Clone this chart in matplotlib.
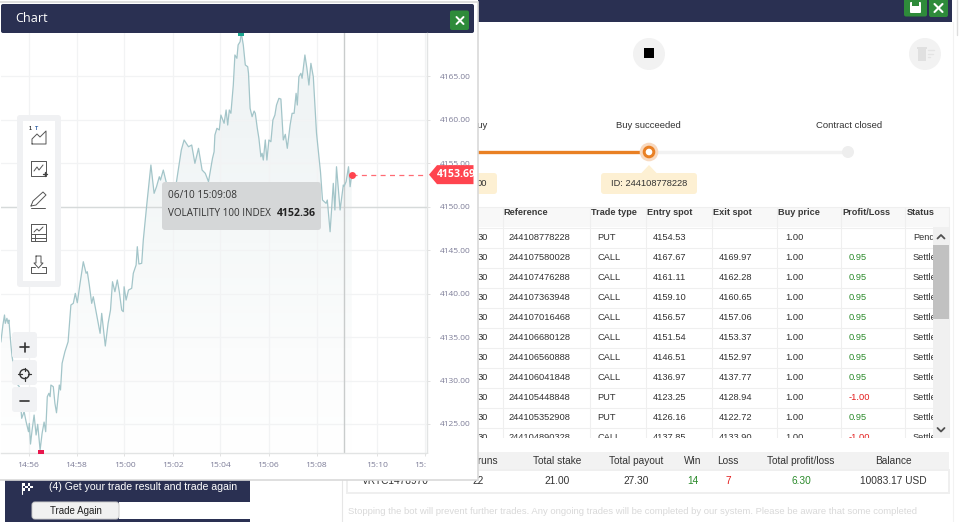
import numpy as np
import matplotlib
matplotlib.use("Agg")
import matplotlib.pyplot as plt
from matplotlib.colors import LinearSegmentedColormap
from matplotlib.patches import FancyBboxPatch, Rectangle, Circle, Polygon, PathPatch
from matplotlib.path import Path

plt.rcParams['font.family'] = ['Liberation Sans', 'DejaVu Sans']

# seconds after 14:56:00
times_s = [-69,-64,-60,-58,-54,-51,-49,-44,-41,-30,
           -23,-17,-11,-6,0,2,5,9,14,19,
           23,29,34,39,43,47,51,54,56,62,
           66,70,75,77,80,84,91,99,106,112,
           117,122,129,137,144,147,152,158,162,172,
           179,183,187,192,199,205,210,216,222,227,
           233,237,239,244,250,258,262,269,272,276,
           283,287,296,306,314,320,327,330,337,344,
           354,366,370,382,389,400,408,416,425,434,
           442,450,460,464,466,471,477,481,489,494,
           498,502,506,512,516,521,524,529,532,537,
           542,548,550,554,559,564,567,572,576,581,
           584,587,592,596,601,606,611,616,620,626,
           631,637,642,647,654,659,664,669,672,676,
           681,684,691,696,701,706,712,720,727,730,
           735,744,747,754,762,766,770,779,787,789,
           794,800,804,808]
prices = [4134.46,4136.39,4137.54,4136.58,4137.16,4136.58,4136.96,4134.09,4132.74,4129.68,
          4129.29,4125.65,4126.41,4125.26,4124.11,4125.07,4122.69,4124.30,4126.03,4123.73,
          4124.96,4122.00,4123.92,4125.22,4124.11,4128.14,4128.53,4128.14,4129.48,4129.29,
          4127.38,4126.29,4128.53,4129.48,4128.91,4131.98,4133.31,4134.46,4138.69,4138.88,
          4140.03,4138.95,4141.22,4143.67,4142.34,4142.52,4140.99,4138.88,4139.64,4137.16,
          4135.43,4137.73,4136.01,4133.97,4136.58,4138.11,4141.37,4140.22,4141.57,4140.22,
          4138.11,4137.92,4140.79,4139.26,4140.41,4140.61,4142.34,4143.29,4145.40,4143.41,
          4143.49,4146.17,4150.39,4154.80,4151.54,4152.30,4153.45,4153.07,4154.22,4152.88,
          4151.92,4151.69,4152.88,4156.52,4157.68,4156.90,4157.10,4154.99,4156.72,4154.22,
          4153.84,4152.88,4155.57,4156.33,4158.25,4159.02,4158.83,4160.55,4159.60,4161.13,
          4159.40,4161.13,4160.75,4164.00,4167.46,4167.08,4168.61,4168.99,4169.99,4168.61,
          4166.31,4166.11,4165.35,4161.32,4160.36,4161.01,4160.75,4159.02,4157.87,4155.75,
          4156.15,4155.37,4157.68,4155.37,4157.68,4157.48,4159.98,4160.55,4161.70,4162.47,
          4162.39,4157.68,4158.33,4156.72,4159.40,4160.75,4160.75,4163.05,4161.70,4164.96,
          4165.35,4164.78,4167.46,4165.93,4164.00,4166.50,4164.96,4158.48,4155.37,4153.99,
          4150.77,4150.39,4150.77,4147.12,4152.69,4149.62,4154.60,4149.62,4152.50,4152.36,
          4152.88,4154.60,4152.30,4153.69]

x_tick_labels = ["14:56", "14:58", "15:00", "15:02", "15:04", "15:06", "15:08", "15:10", "15:12"]
x_tick_secs = [0, 120, 240, 360, 480, 600, 720, 871, 991]  # the axis stretches past the last tick
y_ticks = [4125, 4130, 4135, 4140, 4145, 4150, 4155, 4160, 4165]
hover_index = 159
hover_time = "06/10 15:09:08"
hover_name = "VOLATILITY 100 INDEX"

table_columns = ["Reference", "Trade type", "Entry spot", "Exit spot", "Buy price", "Profit/Loss", "Status"]
references = ["244108778228", "244107580028", "244107476288", "244107363948", "244107016468", "244106680128",
              "244106560888", "244106041848", "244105448848", "244105352908", "244104890328"]
trade_types = ["PUT", "CALL", "CALL", "CALL", "CALL", "CALL", "CALL", "CALL", "PUT", "PUT", "CALL"]
entry_spots = ["4154.53", "4167.67", "4161.11", "4159.10", "4156.57", "4151.54",
               "4146.51", "4136.97", "4123.25", "4126.16", "4137.85"]
exit_spots = ["", "4169.97", "4162.28", "4160.65", "4157.06", "4153.37",
              "4152.97", "4137.77", "4128.94", "4122.72", "4133.90"]
buy_prices = ["1.00"] * 11
profits = ["", "0.95", "0.95", "0.95", "0.95", "0.95", "0.95", "0.95", "-1.00", "0.95", "-1.00"]
statuses = ["Pending"] + ["Settled"] * 10

summary_columns = ["No. of runs", "Total stake", "Total payout", "Win", "Loss", "Total profit/loss", "Balance"]
summary_values = ["22", "21.00", "27.30", "14", "7", "6.30", "10083.17 USD"]
summary_colors = ["#333333", "#333333", "#333333", "#2a8a2a", "#e31c1c", "#2a8a2a", "#333333"]

NAVY = "#2a3052"
GREEN = "#2e8b3a"
ORANGE = "#e98024"
RED = "#ff444f"
GREY_TXT = "#7d7d98"
CHART_FONT = ['Open Sans', 'DejaVu Sans']

W, H = 959, 522
fig = plt.figure(figsize=(W / 100, H / 100), dpi=100)


def px_axes(z):
    a = fig.add_axes([0, 0, 1, 1], zorder=z)
    a.set_xlim(0, W)
    a.set_ylim(H, 0)
    a.axis("off")
    return a


def box(a, x0, y0, x1, y1, color, r=0, z=1, ec="none", lw=0):
    if r:
        p = FancyBboxPatch((x0, y0), x1 - x0, y1 - y0, boxstyle=f"round,pad=0,rounding_size={r}",
                           fc=color, ec=ec, lw=lw, zorder=z)
    else:
        p = Rectangle((x0, y0), x1 - x0, y1 - y0, fc=color, ec=ec, lw=lw, zorder=z)
    a.add_patch(p)
    return p


def lines(a, pts, color="#555555", lw=0.8, z=3):
    pts = np.array(pts)
    a.plot(pts[:, 0], pts[:, 1], color=color, lw=lw, zorder=z, solid_capstyle="round")


base = px_axes(0)

# right panel, everything here sits behind the chart window
box(base, 478, 0, 952, 22, NAVY)
box(base, 904, -3, 927, 16.5, GREEN, r=2, z=2)
box(base, 929, -3, 948, 17, GREEN, r=2, z=2)
box(base, 910, 2, 921, 13, "white", r=1, z=3)
box(base, 912, 2, 919, 6, GREEN, z=4)
lines(base, [(934.5, 4), (942.5, 12)], "white", 1.5)
lines(base, [(934.5, 12), (942.5, 4)], "white", 1.5)
lines(base, [(956.5, 0), (956.5, 35)], "#dddddd", 1.0)
lines(base, [(953, 22), (953, 522)], "#f2f2f2", 0.8)

base.add_patch(Circle((649, 54), 16, fc="#f2f2f2", ec="none", zorder=2))
box(base, 644, 48, 654, 58, "black", z=3)
base.add_patch(Circle((925, 54), 16, fc="#f2f2f2", ec="none", zorder=2))
box(base, 918, 49, 926, 61, "#e0e0e0", z=3)
box(base, 917, 47, 927, 48.5, "#e0e0e0", z=3)
for ty, tx in [(50, 934), (53.5, 932.5), (57, 930)]:
    lines(base, [(928, ty), (tx, ty)], "#e4e4e4", 1.0)

# progress bar
base.text(487, 126, "Buy", ha="right", va="center", fontsize=6.8, color="#333333", zorder=2)
base.text(648, 126, "Buy succeeded", ha="center", va="center", fontsize=6.8, color="#333333", zorder=2)
base.text(849, 126, "Contract closed", ha="center", va="center", fontsize=6.8, color="#333333", zorder=2)
lines(base, [(649, 152), (848, 152)], "#f2f2f2", 2.4, 2)
lines(base, [(420, 152), (649, 152)], ORANGE, 2.4, 2)
base.add_patch(Circle((649, 152), 9.3, fc="#f8d9bf", ec="none", zorder=3))
base.add_patch(Circle((649, 152), 6.3, fc=ORANGE, ec="none", zorder=3))
base.add_patch(Circle((649, 152), 3.3, fc="white", ec="none", zorder=3))
base.add_patch(Circle((848, 152), 6, fc="#eeeeee", ec="none", zorder=3))
box(base, 440, 173, 497, 194, "#fdf0d3", r=3, z=2)
box(base, 601, 173, 697, 194, "#fdf0d3", r=3, z=2)
base.add_patch(Polygon([(641, 173.5), (649, 165), (657, 173.5)], fc="#fdf0d3", ec="none", zorder=2))
base.text(487, 183, "00", ha="right", va="center", fontsize=6.7, color="#333333", zorder=3)
base.text(649, 183, "ID: 244108778228", ha="center", va="center", fontsize=6.7, color="#333333", zorder=3)

# trades table
col_edges = [478, 502.5, 590, 646, 712, 777, 841, 905, 949]
head_x = [503.5, 591, 647, 713, 778, 842, 907]
cell_x = [509, 597, 653, 719, 785, 849, 913]
box(base, 440, 207, 949, 227, "#f8f8f8", z=1)
for xe in col_edges[1:]:
    lines(base, [(xe, 207), (xe, 438)], "#efefef", 0.8, 1.5)
for i in range(12):
    ry = 227.5 + 20 * i
    lines(base, [(440, ry), (949, ry)], "#efefef", 0.8, 1.5)
lines(base, [(440, 207), (949, 207)], "#efefef", 0.8, 1.5)
for x, name in zip(head_x, table_columns):
    base.text(x, 212.8, name, ha="left", va="center", fontsize=6.6, fontweight="bold", color="#3a3a3a", zorder=2)

for i in range(len(references)):
    ry = 237 + 20 * i
    pl_color = "#e31c1c" if profits[i].startswith("-") else "#2a8a2a"
    row = [references[i], trade_types[i], entry_spots[i], exit_spots[i], buy_prices[i], profits[i], statuses[i]]
    base.text(488, ry, "30", ha="right", va="center", fontsize=6.7, color="#333333", zorder=2)
    for j, val in enumerate(row):
        col = pl_color if j == 5 else "#333333"
        base.text(cell_x[j], ry, val, ha="left", va="center", fontsize=6.7, color=col, zorder=2)

box(base, 440, 438, 952, 452, "white", z=3)
box(base, 933, 227, 949, 438, "#f0f0f0", z=3)
box(base, 933, 245, 949, 319, "#c1c1c1", z=3.5)
lines(base, [(937.5, 238.5), (941, 235), (944.5, 238.5)], "#505050", 1.3, 4)
lines(base, [(937.5, 428), (941, 431.5), (944.5, 428)], "#505050", 1.3, 4)

# summary row
box(base, 347, 452, 949, 470, "#f2f2f2", z=3.2)
box(base, 347, 470, 949, 492.5, "white", z=3.2, ec="#efefef", lw=1.4)
sum_x = [473, 557, 636, 693, 728, 801, 893]
for x, name, val, col in zip(sum_x, summary_columns, summary_values, summary_colors):
    base.text(x, 461, name, ha="center", va="center", fontsize=7.3, color="#333333", zorder=4)
    base.text(x + (5 if val == "22" else 0), 481, val, ha="center", va="center", fontsize=7.3, color=col, zorder=4)
base.text(395, 481, "VRTC1478970", ha="center", va="center", fontsize=7.3, color="#333333", zorder=4)
base.text(348, 512, "Stopping the bot will prevent further trades. Any ongoing trades will be completed by our system. "
          "Please be aware that some completed", ha="left", va="center", fontsize=6.8, color="#d9d9d9", zorder=2)
lines(base, [(341.5, 480), (341.5, 522)], "#e6e6e6", 0.8, 2)

# bottom left quick strategy bar
box(base, 5, 479, 250, 522, NAVY, z=1)
box(base, 119, 502, 250, 519, "white", z=2)
box(base, 32, 502, 119, 519, "#f1f1f1", r=3, z=2.5, ec="#cccccc", lw=0.7)
base.text(76, 511, "Trade Again", ha="center", va="center", fontsize=7, color="#222222", zorder=3)
base.text(49, 487, "(4) Get your trade result and trade again", ha="left", va="center",
          fontsize=7.6, color="white", zorder=3)
box(base, 22, 483, 33, 490.5, "white", z=2)
for cx in range(4):
    for cy in range(3):
        if (cx + cy) % 2:
            box(base, 22 + cx * 2.75, 483 + cy * 2.5, 24.75 + cx * 2.75, 485.5 + cy * 2.5, NAVY, z=3)
lines(base, [(22, 483), (22, 494)], "white", 0.8)

# chart window on top of the panels
box(base, -2, 1.5, 477.5, 479.5, "white", z=5, ec="#d9d9d9", lw=1.2)
box(base, 1, 4, 474, 33, NAVY, r=2, z=6)
base.text(15, 18.5, "Chart", ha="left", va="center", fontsize=9.1, color="white", zorder=7,
          family=['Open Sans', 'DejaVu Sans'])
box(base, 450, 10.5, 469, 30, GREEN, r=2, z=7)
lines(base, [(456.5, 17), (463.5, 24)], "white", 1.4, 8)
lines(base, [(456.5, 24), (463.5, 17)], "white", 1.4, 8)

# the chart itself, axes box in pixels: x 1..427, y 33..453
chart = fig.add_axes([1 / W, 1 - 453 / H, 426 / W, 420 / H], zorder=1)
chart.patch.set_visible(False)
t0, t1 = -68.75, 996.25
y0, y1 = 4121.66, 4169.99
chart.set_xticks(x_tick_secs)
chart.set_xticklabels(x_tick_labels)
chart.set_yticks(y_ticks)
chart.set_yticklabels([f"{v:.2f}" for v in y_ticks])
chart.yaxis.tick_right()
chart.grid(True, color="#f2f3f4", lw=0.9)
chart.tick_params(axis="x", length=2, width=0.6, color="#dddddd", labelcolor=GREY_TXT, labelsize=6.1, pad=4.5)
chart.tick_params(axis="y", length=2, width=0.6, color="#dddddd", labelcolor=GREY_TXT, labelsize=6.0, pad=7)
for lab in chart.get_xticklabels() + chart.get_yticklabels():
    lab.set_family(CHART_FONT)
for side in ["top", "left"]:
    chart.spines[side].set_visible(False)
for side in ["bottom", "right"]:
    chart.spines[side].set_color("#e2e4e4")
    chart.spines[side].set_linewidth(1.0)

fade = LinearSegmentedColormap.from_list("fade", ["#ffffff", "#fbfcfc", "#f6f9f9", "#f1f5f6", "#eff4f5"])
img = chart.imshow(np.linspace(0, 1, 256)[:, None], cmap=fade, origin="lower", aspect="auto",
                   extent=[t0, t1, y0, y1], zorder=0)
verts = list(zip(times_s, prices)) + [(times_s[-1], y0), (times_s[0], y0), (times_s[0], prices[0])]
clip = PathPatch(Path(verts), transform=chart.transData, fc="none", ec="none")
chart.add_patch(clip)
img.set_clip_path(clip)

chart.plot(times_s, prices, color="#a3c5c9", lw=0.9, zorder=3)
chart.axhline(y_ticks[5], color="#d6dada", lw=1.0, zorder=2)
chart.axvline(times_s[hover_index], color="#c9cccc", lw=1.0, zorder=2)
chart.plot([times_s[-1], t1], [prices[-1], prices[-1]], color="#ff6b74", lw=0.9, dashes=(4, 3.5), zorder=3)
chart.plot(times_s[-1], prices[-1], "o", color=RED, ms=5, mew=0, zorder=4)
low = int(np.argmin(prices))
high = int(np.argmax(prices))
chart.plot(times_s[low] + 3, y0, "s", color="#e8174d", ms=4.5, mew=0, zorder=4)
chart.plot(times_s[high], y1, "s", color="#1aa58f", ms=4.5, mew=0, zorder=4)
chart.set_xlim(t0, t1)
chart.set_ylim(y0, y1)

over = px_axes(2)
over.patch.set_visible(False)


def to_px(t, p):
    return over.transData.inverted().transform(chart.transData.transform((t, p)))


# clipped last time label
box(over, 427.4, 454, 476, 478.5, "white", z=1)

# hover tooltip
box(over, 162, 182, 321, 230, "#d5d7d8", r=3, z=2)
over.text(168.5, 195.5, hover_time, ha="left", va="center", fontsize=7.2, color="#333333", family=CHART_FONT, zorder=3)
over.text(168.5, 213.5, hover_name, ha="left", va="center", fontsize=7.1, color="#333333", family=CHART_FONT, zorder=3)
over.text(277, 213.5, f"{prices[hover_index]:.2f}", ha="left", va="center", fontsize=7.6, color="#222222",
          fontweight="bold", family=CHART_FONT, zorder=3)

# current price tag
tag_y = to_px(times_s[-1], prices[-1])[1]
over.add_patch(Polygon([(429, tag_y), (437, tag_y - 9.5), (473.5, tag_y - 9.5), (473.5, tag_y + 9.5), (437, tag_y + 9.5)],
                       fc=RED, ec="none", zorder=2))
tag_txt = over.text(436.5, tag_y, f"{prices[-1]:.2f}", ha="left", va="center", fontsize=7.6, color="white",
                    fontweight="bold", family=CHART_FONT, zorder=3)
tag_txt.set_clip_path(Rectangle((429, 160), 44.5, 30, transform=over.transData))

# toolbar on the left of the chart
box(over, 17, 115, 61, 287, "#f0f1f3", r=3, z=2)
box(over, 23, 121, 55, 281, "white", z=2.5)
over.text(29, 128, "1", fontsize=3.8, ha="left", va="center", color="#333333", fontweight="bold", zorder=3)
over.text(35, 128, "T", fontsize=3.8, ha="left", va="center", color="#2a5aa0", fontweight="bold", zorder=3)
lines(over, [(32, 144), (32, 139), (37, 134), (40, 137), (46, 131), (46, 144), (32, 144)], lw=0.7)
lines(over, [(31, 161), (46, 161), (46, 176), (31, 176), (31, 161)], lw=0.7)
lines(over, [(34, 171), (37, 167), (39, 170), (43, 165)], lw=0.7)
lines(over, [(43, 174), (47, 174)], "#444444", 1.0)
lines(over, [(45, 172), (45, 176)], "#444444", 1.0)
lines(over, [(31, 206), (33, 201), (43, 192), (46, 195), (36, 205), (31, 206)], lw=0.7)
lines(over, [(31, 208), (45, 208)], lw=0.7)
lines(over, [(31, 224), (46, 224), (46, 241), (31, 241), (31, 224)], lw=0.7)
lines(over, [(34, 232), (37, 229), (39, 231), (43, 227)], lw=0.7)
lines(over, [(31, 234), (46, 234)], lw=0.7)
lines(over, [(31, 238), (46, 238)], lw=0.7)
lines(over, [(35, 234), (35, 241)], lw=0.7)
lines(over, [(36, 256), (41, 256), (41, 263), (43, 263), (38.5, 268), (34, 263), (36, 263), (36, 256)], lw=0.7)
lines(over, [(31, 267), (31, 273), (46, 273), (46, 267), (42, 267)], lw=0.7)
lines(over, [(31, 267), (35, 267)], lw=0.7)

# zoom buttons
box(over, 12, 332, 37, 358, "#f1f2f4", r=3, z=2)
box(over, 12, 360, 37, 385, "#f1f2f4", r=3, z=2)
box(over, 12, 387, 37, 412, "#f1f2f4", r=3, z=2)
lines(over, [(20, 347), (29, 347)], "#333333", 1.2)
lines(over, [(24.5, 342.5), (24.5, 351.5)], "#333333", 1.2)
lines(over, [(20, 401), (29, 401)], "#333333", 1.2)
over.add_patch(Circle((24.5, 374), 4.6, fc="none", ec="#333333", lw=1.0, zorder=3))
lines(over, [(24.5, 367.5), (24.5, 371)], "#333333", 0.9)
lines(over, [(24.5, 377), (24.5, 380.5)], "#333333", 0.9)
lines(over, [(18, 374), (21.5, 374)], "#333333", 0.9)
lines(over, [(27.5, 374), (31, 374)], "#333333", 0.9)

fig.savefig("out.png", dpi=100)
